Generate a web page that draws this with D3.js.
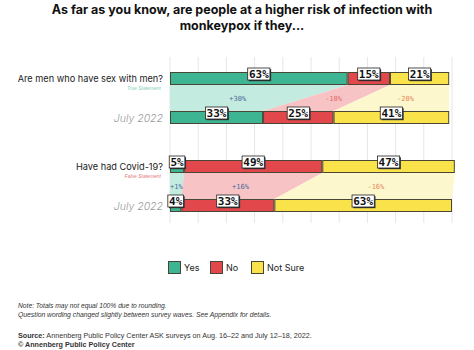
<!DOCTYPE html>
<html><head><meta charset="utf-8">
<script src="https://cdn.jsdelivr.net/npm/d3@7"></script>
<style>body{margin:0;background:#fff}svg{display:block}</style>
</head><body>
<script>
const categories = ["Are men who have sex with men?", "Have had Covid-19?"];
const statements = ["True Statement", "False Statement"];
const waves = ["Aug 2022", "July 2022"];
const series = ["Yes", "No", "Not Sure"];
const augYes = [63, 5], augNo = [15, 49], augNotSure = [21, 47];
const julYes = [33, 4], julNo = [25, 33], julNotSure = [41, 63];
const xTicks = [0,10,20,30,40,50,60,70,80,90,100];

const W = 474, H = 350;
const colors = {"Yes":"#3db592","No":"#e2474b","Not Sure":"#f9e24a"};
const light = {"Yes":"#c3ebdf","No":"#f8c3c4","Not Sure":"#fdf7cd"};
const changeCol = {"pos":"#4b6d9b","No":"#e26b6b","Not Sure":"#e68a5e"};
const stmtCol = ["#86d1b8","#e77a7a"];

const svg = d3.select("body").append("svg").attr("width", W).attr("height", H);
const x = d3.scaleLinear().domain([0,100]).range([170, 452]);
const yCat = d3.scalePoint().domain(categories).range([72, 160]);
const yWave = d3.scalePoint().domain(waves).range([0, 39]);
const barH = 13;

function stack(vals){ let c=0; return vals.map((v,i)=>{const s={key:series[i],v,x0:c,x1:c+v}; c+=v; return s;}); }
const rows = categories.map((c,i)=>({cat:c, stmt:statements[i],
  aug: stack([augYes[i], augNo[i], augNotSure[i]]),
  jul: stack([julYes[i], julNo[i], julNotSure[i]])}));

// title
const title = svg.append("text").attr("text-anchor","middle")
  .style("font-family","Inter, 'Liberation Sans', sans-serif").style("font-weight","700").style("font-size","12.5px").attr("fill","#111");
title.append("tspan").attr("x",242).attr("y",14).text("As far as you know, are people at a higher risk of infection with");
title.append("tspan").attr("x",242).attr("y",30).text("monkeypox if they...");

// gridlines
svg.append("g").selectAll("line").data(xTicks).join("line")
  .attr("x1",d=>x(d)).attr("x2",d=>x(d)).attr("y1",57).attr("y2",223)
  .attr("stroke","#e6e6e6").attr("stroke-width",1);

rows.forEach(r=>{
  const yA = yCat(r.cat)+yWave(waves[0]);
  const yJ = yCat(r.cat)+yWave(waves[1]);
  const g = svg.append("g");
  // connecting bands
  g.selectAll("path.band").data(d3.range(3)).join("path").attr("class","band")
    .attr("d",i=>{const a=r.aug[i], b=r.jul[i];
      return `M${x(a.x0)},${yA+barH}L${x(a.x1)},${yA+barH}L${x(b.x1)},${yJ}L${x(b.x0)},${yJ}Z`;})
    .attr("fill",i=>light[series[i]]);
  // bars
  [[r.aug,yA],[r.jul,yJ]].forEach(([segs,y0])=>{
    g.selectAll(null).data(segs).join("rect")
      .attr("x",d=>x(d.x0)+0.5).attr("y",y0+0.5)
      .attr("width",d=>Math.max(0,x(d.x1)-x(d.x0)-1)).attr("height",barH-1)
      .attr("fill",d=>colors[d.key]).attr("stroke","#4a4636").attr("stroke-width",1);
  });
  // change labels
  g.selectAll("text.chg").data(d3.range(3)).join("text").attr("class","chg")
    .attr("x",i=>(x((r.aug[i].x0+r.aug[i].x1)/2)+x((r.jul[i].x0+r.jul[i].x1)/2))/2)
    .attr("y",(yA+barH+yJ)/2+2.5).attr("text-anchor","middle")
    .style("font-family","'DejaVu Sans Mono', monospace").style("font-size","7px")
    .attr("fill",i=>{const d=r.aug[i].v-r.jul[i].v; return d>=0?changeCol.pos:changeCol[series[i]];})
    .text(i=>{const d=r.aug[i].v-r.jul[i].v; return (d>0?"+":d<0?"-":"")+Math.abs(d)+"%";});
  // value labels
  [[r.aug,yA],[r.jul,yJ]].forEach(([segs,y0])=>{
    const lg = g.selectAll(null).data(segs).join("g")
      .attr("transform",d=>`translate(${x((d.x0+d.x1)/2)},${y0+2})`);
    lg.each(function(d){
      const s=d3.select(this);
      const t = s.append("text").attr("text-anchor","middle").attr("y",4)
        .style("font-family","'DejaVu Sans Mono', monospace").style("font-weight","700").style("font-size","11px")
        .attr("fill","#111").text(d.v+"%");
      const bb = t.node().getBBox();
      const w = bb.width+2, h=12;
      s.insert("rect","text").attr("x",-w/2+1.2).attr("y",-h/2+1.2).attr("width",w).attr("height",h).attr("fill","#333");
      s.insert("rect","text").attr("x",-w/2).attr("y",-h/2).attr("width",w).attr("height",h)
        .attr("fill","#fff").attr("stroke","#222").attr("stroke-width",0.8);
    });
  });
  // row labels
  g.append("text").attr("x",163).attr("y",yA+barH/2+3.5).attr("text-anchor","end")
    .style("font-family","Inter, 'Liberation Sans', sans-serif").style("font-size","9.2px").attr("fill","#222").text(r.cat);
  g.append("text").attr("x",161).attr("y",yA+barH/2+11).attr("text-anchor","end")
    .style("font-family","'Liberation Sans', sans-serif").style("font-style","italic").style("font-size","5px").attr("fill",stmtCol[categories.indexOf(r.cat)]).text(r.stmt);
  g.append("text").attr("x",163).attr("y",yJ+barH/2+4).attr("text-anchor","end")
    .style("font-family","Inter, 'Liberation Sans', sans-serif").style("font-style","italic").style("font-weight","300").style("font-size","10.5px").attr("fill","#9a9a9a").text(waves[1]);
});

// legend
const legX = [168, 210, 251];
const lg = svg.append("g").selectAll("g").data(series).join("g")
  .attr("transform",(d,i)=>`translate(${legX[i]},261)`);
lg.append("rect").attr("x",0.5).attr("y",0.5).attr("width",12).attr("height",12)
  .attr("fill",d=>colors[d]).attr("stroke","#4a4636").attr("stroke-width",1);
lg.append("text").attr("x",16).attr("y",10).style("font-family","Inter, 'Liberation Sans', sans-serif")
  .style("font-size","9px").attr("fill","#222").text(d=>d);

// notes
const nf = "'Liberation Sans', sans-serif";
svg.append("text").attr("x",18).attr("y",308).attr("fill","#333").style("font-family",nf).style("font-style","italic").style("font-size","6.7px").text("Note: Totals may not equal 100% due to rounding.");
svg.append("text").attr("x",18).attr("y",317).attr("fill","#333").style("font-family",nf).style("font-style","italic").style("font-size","6.8px").text("Question wording changed slightly between survey waves. See Appendix for details.");
const src = svg.append("text").attr("x",18).attr("y",338).attr("fill","#333").style("font-family",nf).style("font-size","7.2px");
src.append("tspan").attr("fill","#333").style("font-weight","700").text("Source:");
src.append("tspan").attr("fill","#333").text(" Annenberg Public Policy Center ASK surveys on Aug. 16–22 and July 12–18, 2022.");
svg.append("text").attr("x",18).attr("y",347).attr("fill","#333").style("font-family",nf).style("font-size","7.2px").style("font-weight","700").text("© Annenberg Public Policy Center");
</script>
</body></html>
